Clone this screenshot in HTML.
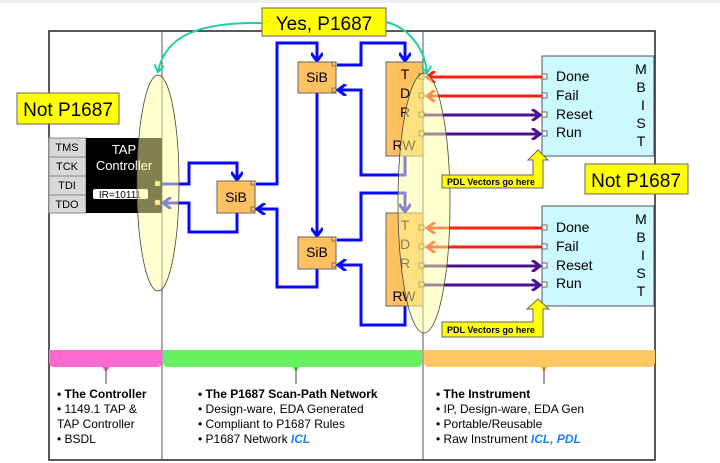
<!DOCTYPE html>
<html><head><meta charset="utf-8"><style>
html,body{margin:0;padding:0;background:#fff;}
svg{display:block;font-family:"Liberation Sans",Arial,sans-serif;}
</style></head><body>
<svg width="720" height="463" viewBox="0 0 720 463" xmlns="http://www.w3.org/2000/svg">
<defs>
<marker id="ab" markerWidth="12" markerHeight="12" refX="9" refY="6" orient="auto" markerUnits="userSpaceOnUse"><path d="M1,0 L9,6 L1,12" fill="none" stroke="#0808ff" stroke-width="3"/></marker>
<marker id="ar" markerWidth="12" markerHeight="12" refX="9" refY="6" orient="auto" markerUnits="userSpaceOnUse"><path d="M1,0 L9,6 L1,12" fill="none" stroke="#ff2010" stroke-width="3"/></marker>
<marker id="ap" markerWidth="12" markerHeight="12" refX="9" refY="6" orient="auto" markerUnits="userSpaceOnUse"><path d="M1,0 L9,6 L1,12" fill="none" stroke="#4a1090" stroke-width="3"/></marker>
<marker id="at" markerWidth="10" markerHeight="10" refX="8" refY="5" orient="auto" markerUnits="userSpaceOnUse"><path d="M1,0 L8,5 L1,10" fill="none" stroke="#20d0a0" stroke-width="2"/></marker>
</defs>
<rect x="0" y="0" width="720" height="3" fill="#eef0f6"/>
<rect x="49" y="31" width="606" height="429" fill="none" stroke="#222" stroke-width="1.5"/>
<line x1="162" y1="31" x2="162" y2="460" stroke="#555"/>
<line x1="423" y1="31" x2="423" y2="460" stroke="#555"/>
<path d="M49,350 H162 V362 Q162,367 157,367 H110 L106,372 L102,367 H54 Q49,367 49,362Z" fill="#ff6ad0"/>
<path d="M163,350 H422 V362 Q422,367 417,367 H300 L296,372 L292,367 H168 Q163,367 163,362Z" fill="#66f060"/>
<path d="M424,350 H655 V362 Q655,367 650,367 H548 L544,372 L540,367 H429 Q424,367 424,362Z" fill="#ffc860"/>
<line x1="106" y1="367" x2="106" y2="384" stroke="#444"/>
<line x1="296" y1="367" x2="296" y2="384" stroke="#444"/>
<line x1="544" y1="367" x2="544" y2="384" stroke="#444"/>
<g font-size="11" fill="#000">
<rect x="49" y="138" width="37" height="19" fill="#d8d8d8" stroke="#888"/>
<rect x="49" y="157" width="37" height="19" fill="#d8d8d8" stroke="#888"/>
<rect x="49" y="176" width="37" height="19" fill="#d8d8d8" stroke="#888"/>
<rect x="49" y="195" width="37" height="18" fill="#d8d8d8" stroke="#888"/>
<text x="67" y="151" text-anchor="middle">TMS</text>
<text x="67" y="170" text-anchor="middle">TCK</text>
<text x="67" y="189" text-anchor="middle">TDI</text>
<text x="67" y="208" text-anchor="middle">TDO</text>
</g>
<rect x="86" y="138" width="76" height="75" fill="#000"/>
<text x="124" y="154" text-anchor="middle" font-size="13" fill="#fff">TAP</text>
<text x="124" y="170" text-anchor="middle" font-size="13" fill="#fff">Controller</text>
<rect x="93" y="189" width="55" height="10" rx="2" fill="#fff"/>
<text x="120" y="198" text-anchor="middle" font-size="10">IR=10111</text>
<rect x="155" y="181" width="5" height="5" fill="#ffe080" stroke="#555" stroke-width="0.5"/>
<rect x="155" y="200" width="5" height="5" fill="#ffe080" stroke="#555" stroke-width="0.5"/>
<g fill="none" stroke="#0808ff" stroke-width="3">
<path d="M161,184 H189 V163 H237 V180" marker-end="url(#ab)"/>
<path d="M256,184 H277 V43 H317 V61" marker-end="url(#ab)"/>
<path d="M337,65 H361 V43 H405 V61" marker-end="url(#ab)"/>
<path d="M405,156 V175 H361 V90 H338" marker-end="url(#ab)"/>
<path d="M317,93 V236" marker-end="url(#ab)"/>
<path d="M337,240 H361 V193 H405 V212" marker-end="url(#ab)"/>
<path d="M405,306 V325 H361 V265 H338" marker-end="url(#ab)"/>
<path d="M317,269 V287 H277 V209 H257" marker-end="url(#ab)"/>
<path d="M237,213 V232 H189 V203 H163" marker-end="url(#ab)"/>
</g>
<g font-size="14" fill="#000">
<rect x="217" y="181" width="38" height="32" fill="#ffc060" stroke="#666"/>
<text x="236" y="202" text-anchor="middle">SiB</text>
<rect x="298" y="62" width="38" height="31" fill="#ffc060" stroke="#666"/>
<text x="317" y="82" text-anchor="middle">SiB</text>
<rect x="298" y="237" width="38" height="32" fill="#ffc060" stroke="#666"/>
<text x="317" y="257" text-anchor="middle">SiB</text>
</g>
<g fill="#ffc060" stroke="#555" stroke-width="0.7">
<rect x="251" y="181" width="4" height="4"/><rect x="251" y="207" width="4" height="4"/>
<rect x="332" y="62" width="4" height="4"/><rect x="332" y="88" width="4" height="4"/>
<rect x="332" y="237" width="4" height="4"/><rect x="332" y="263" width="4" height="4"/>
</g>
<g font-size="14" fill="#000" text-anchor="middle">
<rect x="386" y="62" width="37" height="94" fill="#ffc060" stroke="#666"/>
<text x="405" y="79">T</text><text x="405" y="98">D</text><text x="405" y="117">R</text><text x="404" y="150">RW</text>
<rect x="386" y="213" width="37" height="93" fill="#ffc060" stroke="#666"/>
<text x="405" y="230">T</text><text x="405" y="249">D</text><text x="405" y="268">R</text><text x="404" y="301">RW</text>
</g>
<rect x="542" y="56" width="112" height="100" fill="#ccf8ff" stroke="#555"/>
<rect x="542" y="206" width="112" height="100" fill="#ccf8ff" stroke="#555"/>
<g font-size="14" fill="#000">
<text x="556" y="81">Done</text><text x="556" y="100">Fail</text><text x="556" y="119">Reset</text><text x="556" y="137">Run</text>
<text x="556" y="232">Done</text><text x="556" y="251">Fail</text><text x="556" y="270">Reset</text><text x="556" y="288">Run</text>
<g text-anchor="middle">
<text x="641" y="74">M</text><text x="641" y="92">B</text><text x="643" y="110">I</text><text x="641" y="128">S</text><text x="641" y="146">T</text>
<text x="641" y="224">M</text><text x="641" y="242">B</text><text x="643" y="260">I</text><text x="641" y="278">S</text><text x="641" y="296">T</text>
</g></g>
<g stroke-width="3" fill="none">
<path d="M542,77 H427" stroke="#ff2010" marker-end="url(#ar)"/>
<path d="M542,96 H427" stroke="#ff2010" marker-end="url(#ar)"/>
<path d="M423,115 H540" stroke="#4a1090" marker-end="url(#ap)"/>
<path d="M423,134 H540" stroke="#4a1090" marker-end="url(#ap)"/>
<path d="M542,228 H427" stroke="#ff2010" marker-end="url(#ar)"/>
<path d="M542,247 H427" stroke="#ff2010" marker-end="url(#ar)"/>
<path d="M423,266 H540" stroke="#4a1090" marker-end="url(#ap)"/>
<path d="M423,285 H540" stroke="#4a1090" marker-end="url(#ap)"/>
</g>
<g fill="#fff" stroke="#333" stroke-width="0.7">
<rect x="419" y="74" width="5" height="5" fill="#ffc060"/><rect x="419" y="93" width="5" height="5" fill="#ffc060"/><rect x="419" y="112" width="5" height="5" fill="#ffc060"/><rect x="419" y="131" width="5" height="5" fill="#ffc060"/>
<rect x="419" y="225" width="5" height="5" fill="#ffc060"/><rect x="419" y="244" width="5" height="5" fill="#ffc060"/><rect x="419" y="263" width="5" height="5" fill="#ffc060"/><rect x="419" y="282" width="5" height="5" fill="#ffc060"/>
<rect x="542" y="74" width="5" height="5"/><rect x="542" y="93" width="5" height="5"/><rect x="542" y="112" width="5" height="5"/><rect x="542" y="131" width="5" height="5"/>
<rect x="542" y="225" width="5" height="5"/><rect x="542" y="244" width="5" height="5"/><rect x="542" y="263" width="5" height="5"/><rect x="542" y="282" width="5" height="5"/>
</g>
<ellipse cx="158" cy="183" rx="21" ry="108" fill="#ffffa0" fill-opacity="0.5" stroke="#444" stroke-width="0.8"/>
<ellipse cx="424" cy="203" rx="26" ry="130" fill="#ffffa0" fill-opacity="0.5" stroke="#444" stroke-width="0.8"/>
<path d="M442,175 H533 V160 H528 L538,150 L548,160 H543 V188 H442Z" fill="#ffff00" stroke="#666"/>
<text x="447" y="185" font-size="9" font-weight="bold">PDL Vectors go here</text>
<path d="M442,322 H533 V309 H527 L538,299 L549,309 H543 V337 H442Z" fill="#ffff00" stroke="#666"/>
<text x="447" y="333" font-size="9" font-weight="bold">PDL Vectors go here</text>
<rect x="17" y="93" width="102" height="31" fill="#ffff00" stroke="#666"/>
<text x="68" y="116" text-anchor="middle" font-size="19">Not P1687</text>
<rect x="585" y="164" width="103" height="30" fill="#ffff00" stroke="#666"/>
<text x="636" y="187" text-anchor="middle" font-size="19">Not P1687</text>
<rect x="262" y="8" width="124" height="28" fill="#ffff00" stroke="#666"/>
<text x="324" y="30" text-anchor="middle" font-size="19">Yes, P1687</text>
<path d="M262,23 C200,22 165,35 158,72" fill="none" stroke="#20d0a0" stroke-width="2" marker-end="url(#at)"/>
<path d="M386,22 C410,28 425,50 427,73" fill="none" stroke="#20d0a0" stroke-width="2" marker-end="url(#at)"/>
<g font-size="12" fill="#000">
<text x="57" y="398"><tspan font-weight="bold">• The Controller</tspan></text>
<text x="57" y="413">• 1149.1 TAP &amp;</text>
<text x="57" y="428">TAP Controller</text>
<text x="57" y="443">• BSDL</text>
<text x="198" y="398" font-weight="bold">• The P1687 Scan-Path Network</text>
<text x="198" y="413">• Design-ware, EDA Generated</text>
<text x="198" y="428">• Compliant to P1687 Rules</text>
<text x="198" y="443">• P1687 Network <tspan fill="#1a80ff" font-style="italic" font-weight="bold">ICL</tspan></text>
<text x="436" y="398" font-weight="bold">• The Instrument</text>
<text x="436" y="413">• IP, Design-ware, EDA Gen</text>
<text x="436" y="428">• Portable/Reusable</text>
<text x="436" y="443">• Raw Instrument <tspan fill="#1a80ff" font-style="italic" font-weight="bold">ICL, PDL</tspan></text>
</g>
</svg>
</body></html>
